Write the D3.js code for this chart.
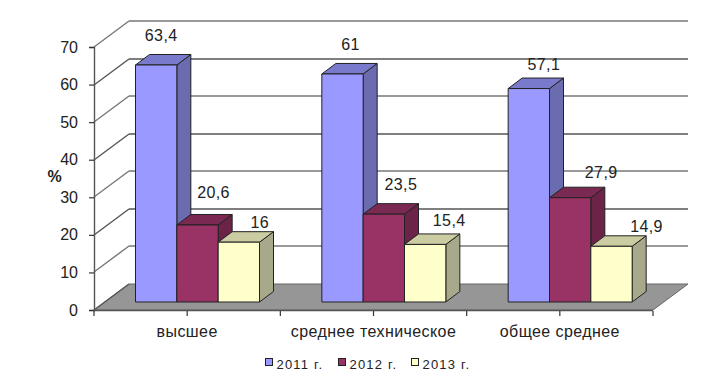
<!DOCTYPE html>
<html>
<head>
<meta charset="utf-8">
<script src="https://cdn.jsdelivr.net/npm/d3@7"></script>
<style>
  html, body { margin: 0; padding: 0; background: #fff; }
  text { font-family: "Liberation Sans", Arial, sans-serif; fill: #222; }
</style>
</head>
<body>
<svg id="chart" width="726" height="391"></svg>
<script>
const categories = ['высшее', 'среднее техническое', 'общее среднее'];
const years = ['2011 г.', '2012 г.', '2013 г.'];
const values2011 = [63.4, 61, 57.1];
const values2012 = [20.6, 23.5, 27.9];
const values2013 = [16, 15.4, 14.9];
const valueLabels = [['63,4', '61', '57,1'], ['20,6', '23,5', '27,9'], ['16', '15,4', '14,9']];
const yTicks = [0, 10, 20, 30, 40, 50, 60, 70];
const front = ['#9999ff', '#993366', '#ffffcc'];
const top_ = ['#7a7acc', '#7a2952', '#cccca3'];
const side = ['#6b6bb0', '#6b2447', '#a8a88a'];

// hand placement of the value labels, the original chart had them dragged around
const labelShiftX = [[5, 8, 15], [16, 17, 31], [21, 24, 35]];
const labelShiftY = [[24, 24, 19], [27, 24, 20], [14, 18, 14]];

const series = [values2011, values2012, values2013];
const svg = d3.select('#chart');

const x = d3.scaleBand().domain(categories).range([94, 653]);
const inner = d3.scaleBand().domain(d3.range(3)).range([41.5, 41.5 + 124]);
const y = d3.scaleLinear().domain([0, 70]).range([310, 47]);
const wall = {dx: 35, dy: -26};   // 3D depth of the whole plot
const bar = {dx: 14, dy: -10.5, base: -8};  // 3D depth of one bar, base shift off the front edge
const h = v => y(0) - y(v);

// Floor
svg.append('polygon')
    .attr('points', [[x.range()[0], y(0)], [x.range()[0] + wall.dx, y(0) + wall.dy],
      [x.range()[1] + wall.dx, y(0) + wall.dy], [x.range()[1], y(0)]].join(' '))
    .attr('fill', '#969696')
    .attr('stroke', '#666')
    .attr('stroke-width', 1);

// Grid, back wall and left wall
yTicks.forEach(t => {
  const yy = Math.round(y(t));
  const g = svg.append('g').attr('fill', 'none').attr('stroke', t % 20 === 0 ? '#555' : '#777')
      .attr('stroke-width', 1.4);
  g.append('line')
      .attr('x1', 94).attr('y1', yy)
      .attr('x2', 94 + wall.dx).attr('y2', yy + wall.dy);
  if (t > 0) {
    g.append('line')
        .attr('x1', 94 + wall.dx).attr('y1', yy + wall.dy)
        .attr('x2', 653 + wall.dx).attr('y2', yy + wall.dy);
  }
});

// Y axis
const yAxis = d3.axisLeft(y).tickValues(yTicks).tickSize(5).tickPadding(11);
const gy = svg.append('g').attr('transform', 'translate(94,0)').call(yAxis);
gy.select('.domain').attr('stroke', '#555').attr('stroke-width', 1.4);
gy.selectAll('line').attr('stroke', '#333').attr('stroke-width', 1.2);
gy.selectAll('text')
    .attr('font-size', 16)
    .attr('font-family', '"Liberation Sans", Arial, sans-serif');

// X axis with a tick on each band edge and middle
const xTicks = d3.range(7).map(i => 94 + (653 - 94) * i / 6);
svg.append('line').attr('x1', 94).attr('x2', 653).attr('y1', 310.5).attr('y2', 310.5)
    .attr('stroke', '#555').attr('stroke-width', 1.4);
svg.selectAll('.xtick').data(xTicks).join('line')
    .attr('class', 'xtick')
    .attr('x1', d => d).attr('x2', d => d).attr('y1', 311).attr('y2', 316)
    .attr('stroke', '#333').attr('stroke-width', 1.2);
svg.selectAll('.xlabel').data(categories).join('text')
    .attr('class', 'xlabel')
    .attr('x', d => x(d) + x.bandwidth() / 2)
    .attr('y', 337)
    .attr('text-anchor', 'middle')
    .attr('font-size', 16)
    .attr('letter-spacing', 0.42)
    .text(d => d);

// Bars, each one only overlaps its left neighbour's side
categories.forEach((c, ci) => {
  series.forEach((s, si) => {
    const x0 = x(c) + inner(si);
    const w = inner.bandwidth();
    const yb = y(0) + bar.base;
    const yt = yb - h(s[ci]) * 0.995;
    const g = svg.append('g').attr('stroke', '#222').attr('stroke-width', 1).attr('stroke-linejoin', 'round');
    g.append('polygon')
        .attr('points', [[x0 + w, yb], [x0 + w + bar.dx, yb + bar.dy], [x0 + w + bar.dx, yt + bar.dy], [x0 + w, yt]].join(' '))
        .attr('fill', side[si]);
    g.append('polygon')
        .attr('points', [[x0, yt], [x0 + bar.dx, yt + bar.dy], [x0 + w + bar.dx, yt + bar.dy], [x0 + w, yt]].join(' '))
        .attr('fill', top_[si]);
    g.append('rect')
        .attr('x', x0).attr('y', yt).attr('width', w).attr('height', yb - yt)
        .attr('fill', front[si]);
    svg.append('text')
        .attr('x', x0 + w / 2 + labelShiftX[si][ci])
        .attr('y', yt - labelShiftY[si][ci])
        .attr('text-anchor', 'middle')
        .attr('font-size', 16)
        .attr('letter-spacing', 0.4)
        .text(valueLabels[si][ci]);
  });
});

// Axis title
svg.append('text').attr('x', 47.5).attr('y', 182)
    .attr('font-size', 16).attr('font-weight', 'bold').text('%');

// Legend
const legendX = d3.scaleOrdinal().domain(years).range([265.5, 338.5, 411.5]);
years.forEach((d, i) => {
  svg.append('rect')
      .attr('x', legendX(d)).attr('y', 358.5).attr('width', 7).attr('height', 7)
      .attr('fill', front[i]).attr('stroke', '#222').attr('stroke-width', 1);
  svg.append('text')
      .attr('x', legendX(d) + 11).attr('y', 369)
      .attr('font-size', 13).attr('letter-spacing', 1.2).text(d);
});
</script>
</body>
</html>
